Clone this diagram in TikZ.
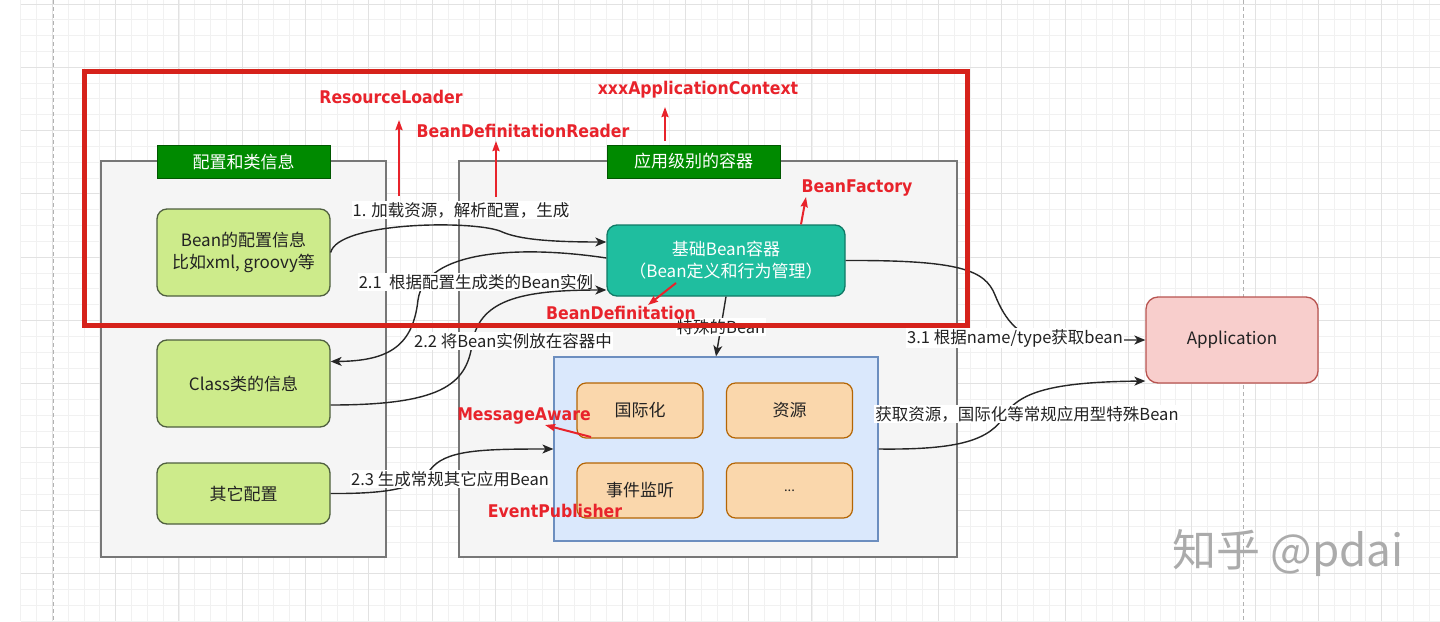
\documentclass[tikz,border=0pt]{standalone}
\usepackage{fontspec}
\setmainfont{Noto Sans CJK SC}
\newfontfamily\redfont{DejaVu Sans}[FakeStretch=0.9]
\usetikzlibrary{arrows.meta}
\definecolor{gminorc}{HTML}{F1F1F1}
\definecolor{gmajorc}{HTML}{E2E2E2}
\definecolor{cfill}{HTML}{F5F5F5}
\definecolor{cdraw}{HTML}{777777}
\definecolor{tfill}{HTML}{008A00}
\definecolor{tdraw}{HTML}{005700}
\definecolor{gfill}{HTML}{CDEB8B}
\definecolor{gdraw}{HTML}{4F5F3F}
\definecolor{teal}{HTML}{1FBE9F}
\definecolor{tealdraw}{HTML}{107A66}
\definecolor{bfill}{HTML}{DAE8FC}
\definecolor{bdraw}{HTML}{6C8EBF}
\definecolor{ofill}{HTML}{FAD7AC}
\definecolor{odraw}{HTML}{B46504}
\definecolor{pfill}{HTML}{F8CECC}
\definecolor{pdraw}{HTML}{B85450}
\definecolor{redbox}{HTML}{D6221B}
\definecolor{redtext}{HTML}{E8232B}
\definecolor{txt}{HTML}{222222}
\definecolor{wm}{HTML}{ABABAB}
\begin{document}
\begin{tikzpicture}[x=1pt,y=-1pt,
  gminor/.style={draw=gminorc,line width=0.8pt},
  gmajor/.style={draw=gmajorc,line width=1pt},
  container/.style={rectangle,draw=cdraw,fill=cfill,line width=1.3pt},
  titlebox/.style={rectangle,draw=tdraw,fill=tfill,line width=1pt,text=white,
    minimum width=173pt,minimum height=33pt,font=\fontsize{17}{20}\selectfont},
  gbox/.style={rectangle,rounded corners=10pt,draw=gdraw,fill=gfill,line width=1.3pt,
    minimum width=173pt,align=center,text=txt,font=\fontsize{17}{22}\selectfont},
  obox/.style={rectangle,rounded corners=9pt,draw=odraw,fill=ofill,line width=1.2pt,
    minimum width=126pt,minimum height=55pt,text=txt,font=\fontsize{17}{20}\selectfont},
  elabel/.style={fill=white,inner sep=1pt,text=txt,font=\fontsize{16.5}{20}\selectfont},
  rlabel/.style={text=redtext,inner sep=0pt,font={\fontsize{17.5}{20}\redfont\bfseries}},
  blk/.style={draw=black!85,line width=1.4pt,-{Stealth[length=11pt,width=9pt,inset=3pt]}},
  redarr/.style={draw=redtext,line width=2pt,-{Stealth[length=10pt,width=7pt,inset=1pt]}}
]
\useasboundingbox (0,0) rectangle (1440,621);
\fill[white] (0,0) rectangle (1440,621);
% grid
\foreach \i in {0,...,89}{\draw[gminor] ({20.65+15.825*\i},0) -- ({20.65+15.825*\i},621);}
\foreach \i in {0,...,40}{\draw[gminor] (20.65,{-11.9+15.825*\i}) -- (1440,{-11.9+15.825*\i});}
\foreach \i in {0,...,22}{\draw[gmajor] ({52.3+63.3*\i},0) -- ({52.3+63.3*\i},621);}
\foreach \i in {0,...,9}{\draw[gmajor] (20.65,{4+63.3*\i}) -- (1440,{4+63.3*\i});}
\draw[draw=black!30,line width=1pt,dash pattern=on 4pt off 3pt] (53,0) -- (53,621);
\draw[draw=black!30,line width=1pt,dash pattern=on 4pt off 3pt] (1243,0) -- (1243,621);

% containers
\node[container,minimum width=285pt,minimum height=396pt] (leftC) at (243.5,359) {};
\node[container,minimum width=498pt,minimum height=396pt] (rightC) at (708,359) {};
\node[titlebox] (leftT) at (243.5,161.5) {配置和类信息};
\node[titlebox] (rightT) at (693.5,161.5) {应用级别的容器};

% left boxes
\node[gbox,minimum height=87pt] (cfg) at (243.5,252.5) {Bean的配置信息\\比如xml, groovy等};
\node[gbox,minimum height=87pt] (cls) at (243.5,383.5) {Class类的信息};
\node[gbox,minimum height=61pt] (oth) at (243.5,493.5) {其它配置};

% bean factory
\node[rectangle,rounded corners=10pt,draw=tealdraw,fill=teal,line width=1.3pt,
  minimum width=238pt,minimum height=71pt,align=center,text=white,
  font=\fontsize{17}{22}\selectfont] (bf) at (726,260.5) {基础Bean容器\\（Bean定义和行为管理）};

% special beans
\node[rectangle,draw=bdraw,fill=bfill,line width=1.2pt,minimum width=324pt,minimum height=184pt] (blue) at (716,449) {};
\node[obox] (o1) at (640,410.5) {国际化};
\node[obox] (o2) at (789.5,410.5) {资源};
\node[obox] (o3) at (640,490.5) {事件监听};
\node[obox] (o4) at (789.5,490.5) {\fontsize{13}{15}\selectfont ...};

% application
\node[rectangle,rounded corners=12pt,draw=pdraw,fill=pfill,line width=1.3pt,
  minimum width=172pt,minimum height=86pt,text=txt,font=\fontsize{17}{20}\selectfont] (app) at (1232,340) {Application};

% connectors
\draw[blk] (cfg.east) .. controls (338,222) and (470,220) .. (500,231)
  .. controls (515,238) and (540,242) .. ([yshift=18.5pt]bf.west);
\node[elabel] (l1) at (461,210) {1. 加载资源，解析配置，生成};

\draw[blk] ([yshift=2.5pt]bf.west) .. controls (520,245) and (425,250) .. (418,300)
  .. controls (413,345) and (390,361) .. ([yshift=22pt]cls.east);
\node[elabel] (l21) at (476,282) {2.1\ \ 根据配置生成类的Bean实例};

\draw[blk] ([yshift=-21.5pt]cls.east) .. controls (440,405) and (466,385) .. (472,345)
  .. controls (478,300) and (520,290) .. ([yshift=-29.5pt]bf.west);
\node[elabel] (l22) at (513,341) {2.2 将Bean实例放在容器中};

\draw[blk] (oth.east) .. controls (400,494) and (420,485) .. (430,470)
  .. controls (445,450) and (480,449) .. (blue.west);
\node[elabel] (l23) at (450,479) {2.3 生成常规其它应用Bean};

\draw[blk] (bf.south) -- (blue.north);
\node[elabel] (ls) at (721,327) {特殊的Bean};

\draw[blk] (bf.east) .. controls (960,260) and (985,270) .. (995,295)
  .. controls (1005,320) and (1020,340) .. (1050,340) -- (app.west);
\node[elabel] (l31) at (1015,338) {3.1 根据name/type获取bean};

\draw[blk] (blue.east) .. controls (960,450) and (990,440) .. (1005,415)
  .. controls (1020,390) and (1060,382) .. ([yshift=-41pt]app.west);
\node[elabel] (l4) at (1027,414) {获取资源，国际化等常规应用型特殊Bean};

% red frame
\node[rectangle,draw=redbox,line width=5pt,minimum width=883pt,minimum height=254pt] (frame) at (525.5,198) {};

% red labels
\node[rlabel] (rl) at (391,97) {ResourceLoader};
\node[rlabel] (bdr) at (523,131) {BeanDefinitationReader};
\node[rlabel] (xac) at (698,90) {xxxApplicationContext};
\node[rlabel] (bfl) at (857,188) {BeanFactory};
\node[rlabel] (bdl) at (621,313) {BeanDefinitation};
\node[rlabel] (mal) at (524,416) {MessageAware};
\node[rlabel] (epl) at (555,511) {EventPublisher};

\coordinate (a1) at (399,196); \coordinate (a1t) at (399,120);
\coordinate (a2) at (496,197); \coordinate (a2t) at (496,141);
\coordinate (a3) at (665,141); \coordinate (a3t) at (665,107);
\coordinate (a4t) at (806,197);
\coordinate (a5) at (676,283); \coordinate (a5t) at (648,305);
\coordinate (a6) at (591,437); \coordinate (a6t) at (545,425);
\draw[redarr] (a1) -- (a1t);
\draw[redarr] (a2) -- (a2t);
\draw[redarr] (a3) -- (a3t);
\draw[redarr] ([xshift=75pt]bf.north) -- (a4t);
\draw[redarr] (a5) -- (a5t);
\draw[redarr] (a6) -- (a6t);

% watermark
\node[text=wm,font=\fontsize{44}{50}\selectfont] (wmk) at (1288,553) {知乎 @pdai};
\end{tikzpicture}
\end{document}
